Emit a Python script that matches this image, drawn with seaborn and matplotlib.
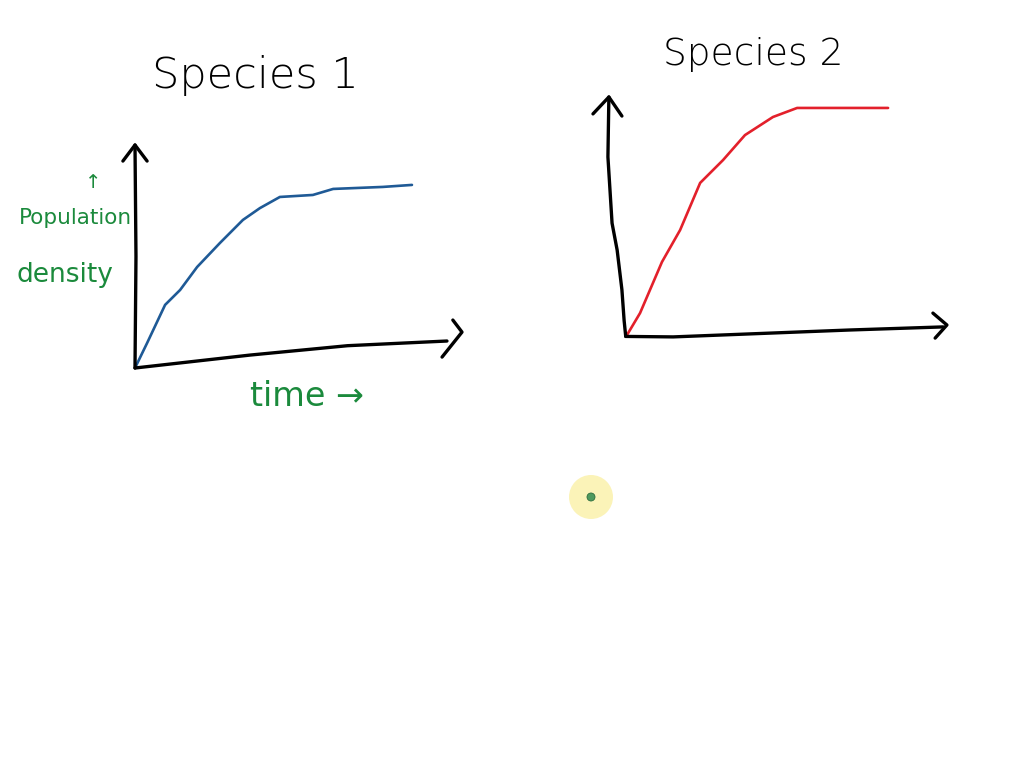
import matplotlib
matplotlib.use("Agg")
import matplotlib.pyplot as plt
from matplotlib.patches import Ellipse
import seaborn as sns
import pandas as pd

sns.set_theme(style="white")
plt.rcParams['font.family'] = ['DejaVu Sans']

# ---- data (arbitrary units) ----
species1_time = [0, 0.37, 0.92, 1.38, 1.90, 2.60, 3.30, 3.82, 4.43, 5.44, 6.06, 7.58, 8.47]
species1_density = [0, 1.12, 2.83, 3.50, 4.53, 5.61, 6.64, 7.17, 7.67, 7.76, 8.03, 8.12, 8.21]
species2_time = [0, 0.41, 1.10, 1.67, 2.30, 3.02, 3.71, 4.59, 5.35, 8.21]
species2_density = [0, 0.92, 3.07, 4.41, 6.39, 7.35, 8.40, 9.16, 9.54, 9.54]
titles = ["Species 1", "Species 2"]
ylabel_lines = ["Population", "density"]
xlabel_text = "time \u2192"

W, H = 1024, 768
fig = plt.figure(figsize=(W / 100, H / 100), dpi=100)
fig.patch.set_facecolor("white")


def fx(px):
    return px / W


def fy(py):
    return (H - py) / H


def make_axes(ox, oy, rx, ty):
    ax = fig.add_axes([fx(ox), fy(oy), (rx - ox) / W, (oy - ty) / H])
    ax.set_xlim(0, 10)
    ax.set_ylim(0, 10)
    ax.set_axis_off()
    return ax


ax1 = make_axes(135, 368, 462, 145)
ax2 = make_axes(627, 335, 945, 97)

df1 = pd.DataFrame({"time": species1_time, "density": species1_density})
df2 = pd.DataFrame({"time": species2_time, "density": species2_density})
sns.lineplot(data=df1, x="time", y="density", ax=ax1, color="#1f5a96",
             linewidth=1.9, sort=False, estimator=None)
sns.lineplot(data=df2, x="time", y="density", ax=ax2, color="#e3202b",
             linewidth=1.9, sort=False, estimator=None)
ax1.set_xlim(0, 10); ax1.set_ylim(0, 10)
ax2.set_xlim(0, 10); ax2.set_ylim(0, 10)

lw = 2.4
k = dict(color="black", linewidth=lw, solid_capstyle="round",
         solid_joinstyle="round", clip_on=False)

# hand-drawn axes, species 1
ax1.plot([0, 0.003, 0.0], [0, 0.5, 1.0], transform=ax1.transAxes, **k)
ax1.plot([-0.037, 0.0, 0.037], [0.928, 1.0, 0.928], transform=ax1.transAxes, **k)
ax1.plot([0, 0.352, 0.65, 0.954], [0, 0.058, 0.10, 0.121], transform=ax1.transAxes, **k)
ax1.plot([0.972, 1.0, 0.939], [0.215, 0.161, 0.049], transform=ax1.transAxes, **k)

# hand-drawn axes, species 2
ax2.plot([-0.004, -0.009, -0.016, -0.031, -0.047, -0.06, -0.057],
         [-0.006, 0.06, 0.19, 0.357, 0.47, 0.748, 1.0], transform=ax2.transAxes, **k)
ax2.plot([-0.107, -0.057, -0.016], [0.929, 1.0, 0.92], transform=ax2.transAxes, **k)
ax2.plot([-0.004, 0.145, 0.70, 0.994], [-0.006, -0.008, 0.021, 0.034], transform=ax2.transAxes, **k)
ax2.plot([0.962, 1.006, 0.969], [0.092, 0.042, -0.013], transform=ax2.transAxes, **k)

# titles
fig.text(fx(255), fy(75), titles[0], fontsize=31, ha="center", va="center",
         color="black", fontweight="light")
fig.text(fx(753), fy(55), titles[1], fontsize=27, ha="center", va="center",
         color="black", fontweight="light")

green = "#1b8a3c"
fig.text(fx(93), fy(182), "\u2191", fontsize=14, ha="center", va="center", color=green)
fig.text(fx(75), fy(218), ylabel_lines[0], fontsize=15.5, ha="center", va="center", color=green)
fig.text(fx(65), fy(275), ylabel_lines[1], fontsize=19, ha="center", va="center", color=green)
fig.text(fx(307), fy(397), xlabel_text, fontsize=24, ha="center", va="center", color=green)

# pointer highlight
fig.patches.append(Ellipse((fx(591), fy(497)), 44 / W, 44 / H, transform=fig.transFigure,
                           facecolor="#fbf3b8", edgecolor="none", zorder=0))
fig.patches.append(Ellipse((fx(591), fy(497)), 8 / W, 8 / H, transform=fig.transFigure,
                           facecolor="#4f9a5e", edgecolor="#2e6e3e", linewidth=0.6, zorder=1))

fig.savefig("out.png", dpi=100, facecolor="white")
